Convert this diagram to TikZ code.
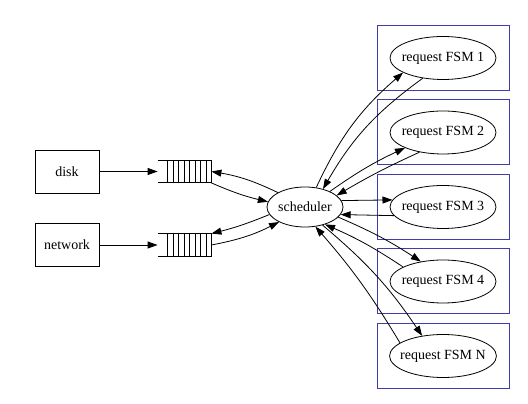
\documentclass[tikz,border=0pt]{standalone}
\usepackage{fontspec}
\setmainfont{Liberation Serif}
\usetikzlibrary{positioning, arrows.meta, shapes.geometric}
\definecolor{clusterblue}{RGB}{64,60,170}

\begin{document}
\begin{tikzpicture}[x=1pt,y=1pt,node distance=74.5pt,on grid,line width=0.8pt,
        >={Triangle[length=10pt,width=7pt]},
        font=\fontsize{14}{17}\selectfont,
        fsm/.style={ellipse,draw,minimum width=106pt,minimum height=43pt,inner xsep=-5pt,inner ysep=0pt},
        sched/.style={ellipse,draw,minimum width=76pt,minimum height=40pt,inner xsep=-5pt,inner ysep=0pt},
        source/.style={rectangle,draw,minimum width=64pt,minimum height=43pt,inner sep=0pt},
        queue/.style={rectangle,minimum width=53pt,minimum height=22pt,inner sep=0pt},
        cluster/.style={rectangle,draw=clusterblue,line width=1pt,minimum width=132pt,minimum height=65pt}]
        \useasboundingbox (0,0) rectangle (528,404);
        \node[sched] (s) at (305,197) {scheduler};
        \node[fsm] (f3) [right=138pt of s] {request FSM 3};
        \node[fsm] (f2) [above=of f3] {request FSM 2};
        \node[fsm] (f1) [above=of f2] {request FSM 1};
        \node[fsm] (f4) [below=of f3] {request FSM 4};
        \node[fsm] (fN) [below=of f4] {request FSM N};
        \foreach \f in {f1,f2,f3,f4,fN}
            \node[cluster] at (\f) {};
        \node[source] (disk) at (67,232.5) {disk};
        \node[source] (net) [below=73.5pt of disk] {network};
        \node[queue] (q1) [right=117.5pt of disk] {};
        \node[queue] (q2) [right=117.5pt of net] {};
        \foreach \q in {q1,q2} {
            \draw (\q.north west) -- (\q.north east) -- (\q.south east) -- (\q.south west);
            \foreach \i in {1,...,8}
                \draw ([xshift={-\i*5.5pt}]\q.north east) -- ([xshift={-\i*5.5pt}]\q.south east);
        }
        \path[->]
            (disk) edge (q1)
            (net) edge (q2)
            (s.152) edge [bend right=8] (q1.east)
            (q1.south east) edge [bend right=5] (s.172)
            (s.192) edge [bend left=4] (q2.north east)
            (q2.east) edge [bend right=8] (s.210)
            (s.60) edge [bend left=12] (f1.200)
            (f1.225) edge [bend right=12] (s.45)
            (s.32) edge [bend left=5] (f2.202)
            (f2.220) edge [bend right=3] (s.20)
            (s.10) edge (f3.172)
            (f3.190) edge (s.-12)
            (s.-17) edge [bend left=5] (f4.138)
            (f4.160) edge [bend right=5] (s.-41)
            (s.-46) edge [bend left=8] (fN.136)
            (fN.163) edge [bend right=5] (s.-62);
\end{tikzpicture}
\end{document}
